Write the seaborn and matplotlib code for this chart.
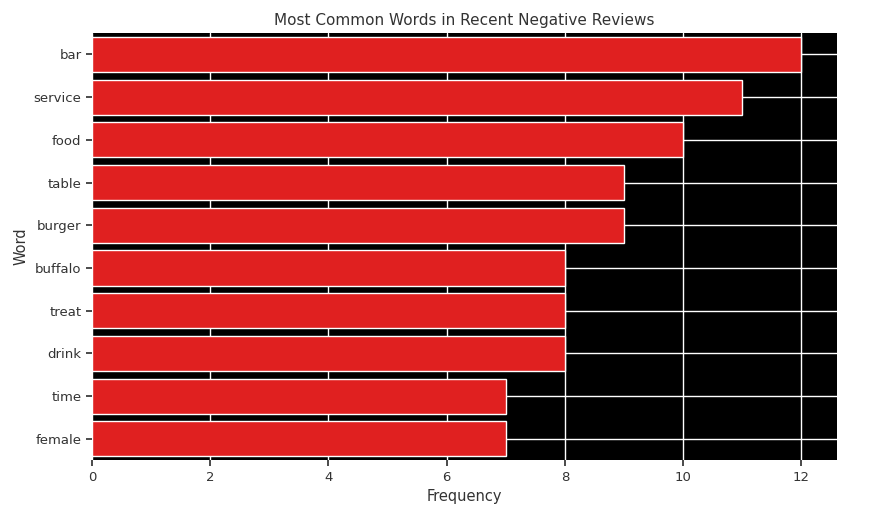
import matplotlib
matplotlib.use("Agg")
import matplotlib.pyplot as plt
import seaborn as sns
import pandas as pd

words = ["bar", "service", "food", "table", "burger", "buffalo", "treat", "drink", "time", "female"]
freqs = [12, 11, 10, 9, 9, 8, 8, 8, 7, 7]

sns.set_theme(style="darkgrid", rc={"axes.facecolor": "black", "grid.color": "white"})
plt.rcParams['font.family'] = ['DejaVu Sans']
fig = plt.figure(figsize=(8.93, 5.08), dpi=100)
ax = fig.add_axes([0.103, 0.094, 0.834, 0.841])
df = pd.DataFrame({"Word": words, "Frequency": freqs})
sns.barplot(data=df, x="Frequency", y="Word", color="#e02020", saturation=1,
            edgecolor="white", linewidth=1, width=0.82, ax=ax)
ax.set_xlim(0, 12.6)
ax.set_title("Most Common Words in Recent Negative Reviews", fontsize=11, color="#333333")
ax.set_xlabel("Frequency", fontsize=10.5, color="#333333")
ax.set_ylabel("Word", fontsize=10.5, color="#333333")
ax.tick_params(labelsize=9.5, colors="#333333", length=4, left=True, bottom=True)
ax.grid(True, color="white", linewidth=1)
for s in ax.spines.values():
    s.set_visible(False)
fig.savefig("out.png", dpi=100, facecolor="white")
